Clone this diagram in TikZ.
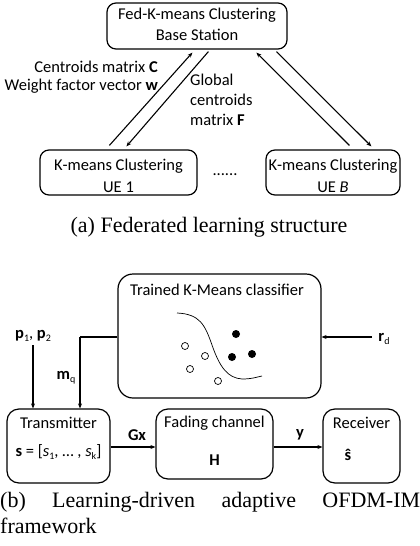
\documentclass[tikz,border=0pt]{standalone}
\usepackage{fontspec}
\setmainfont{Carlito}
\newfontfamily\capfont{Liberation Serif}
\usetikzlibrary{arrows.meta,positioning,calc}
\newcommand\mysub[1]{\raisebox{-0.35ex}{\fontsize{10}{10}\selectfont #1}}
\begin{document}
\begin{tikzpicture}[x=1pt,y=-1pt,
  box/.style={draw,line width=1.2pt,rounded corners=9pt,inner sep=0pt},
  txt/.style={inner sep=0pt,font=\fontsize{16.5}{18}\selectfont},
  lbl/.style={inner sep=0pt,font=\fontsize{16.5}{18}\selectfont},
  captxt/.style={inner sep=0pt,font=\capfont\fontsize{22}{24}\selectfont},
  arr/.style={line width=1.1pt,-{Stealth[length=5pt,width=4pt]}},
  ln/.style={line width=1.1pt}
]
\useasboundingbox (0,0) rectangle (420,546);
% ---- (a) ----
\node[box,minimum width=180pt,minimum height=46pt] (bs) at (197,26) {};
\node[txt] (bst1) at (197,15) {Fed-K-means Clustering};
\node[txt] (bst2) at (197,35) {Base Station};
\node[box,minimum width=157pt,minimum height=45pt] (ue1) at (118.5,172.5) {};
\node[txt] (ue1t1) at (118.5,166) {K-means Clustering};
\node[txt] (ue1t2) at (118.5,187) {UE 1};
\node[box,minimum width=134pt,minimum height=45pt] (ueb) at (333,172.5) {};
\node[txt] (uebt1) at (333,166) {K-means Clustering};
\node[txt] (uebt2) at (333,187) {UE \textit{B}};
\node[txt] (dots) at (225,175) {......};
\draw[arr] ([xshift=70pt,yshift=4pt]ue1.north west) -- ([xshift=86pt,yshift=-3pt]bs.south west);
\draw[arr] ([xshift=102pt,yshift=-2pt]bs.south west) -- ([xshift=87pt,yshift=3pt]ue1.north west);
\draw[arr] ([xshift=84pt,yshift=4pt]ueb.north west) -- ([xshift=150pt,yshift=-3pt]bs.south west);
\draw[arr] ([xshift=170pt,yshift=-2pt]bs.south west) -- ([xshift=106pt,yshift=3pt]ueb.north west);
\node[lbl,anchor=east] (lc) at (158,67) {Centroids matrix \textbf{C}};
\node[lbl,anchor=east] (lw) at (158,86) {Weight factor vector \textbf{w}};
\node[lbl,anchor=west,align=left] (lg1) at (190,80) {Global};
\node[lbl,anchor=west,align=left] (lg2) at (190,100) {centroids};
\node[lbl,anchor=west,align=left] (lg3) at (190,120) {matrix \textbf{F}};
\node[captxt] (capa) at (209,227) {(a) Federated learning structure};
% ---- (b) ----
\node[box,rounded corners=15pt,minimum width=203pt,minimum height=124pt] (cls) at (219.5,336) {};
\node[txt] (clst) at (217,290) {Trained K-Means classifier};
\draw[line width=0.7pt] (177,313) .. controls (200,314) and (205,325) .. (212,345)
  .. controls (220,368) and (228,378) .. (242,379) .. controls (252,379) and (257,377) .. (262,376);
\foreach \p/\q [count=\i] in {185/346,205/356,190/369,218/381}
  \node[draw,circle,line width=0.7pt,minimum size=7pt,inner sep=0pt] (oc\i) at (\p,\q) {};
\foreach \p/\q [count=\i] in {236/334,232/357,252/354}
  \node[fill,circle,minimum size=8pt,inner sep=0pt] (fc\i) at (\p,\q) {};
\node[box,rounded corners=12pt,minimum width=103pt,minimum height=74pt] (tx) at (58.5,446) {};
\node[txt] (txt1) at (58.5,423) {Transmitter};
\node[txt] (txt2) at (58.5,452) {\textbf{s} = [\textit{s}\mysub{1}, … , \textit{s}\mysub{k}]};
\node[box,rounded corners=12pt,minimum width=117pt,minimum height=70pt] (fch) at (214.5,444) {};
\node[txt] (fct1) at (214.5,423) {Fading channel};
\node[txt] (fct2) at (214.5,460) {\textbf{H}};
\node[box,rounded corners=12pt,minimum width=77pt,minimum height=74pt] (rx) at (361.5,446) {};
\node[txt] (rxt1) at (361.5,423) {Receiver};
\node[txt] (rxt2) at (348,455) {\textbf{ŝ}};
\node[lbl] (pl) at (33,336) {\textbf{p}\mysub{1}, \textbf{p}\mysub{2}};
\coordinate (pstart) at (33,345);
\draw[arr] (pstart) -- (pstart |- tx.north);
\coordinate (mcorner) at (80,337);
\draw[ln] (cls.west |- mcorner) -- (mcorner);
\draw[arr] (mcorner) -- (mcorner |- tx.north);
\node[lbl] (ml) at (66,378) {\textbf{m}\mysub{q}};
\coordinate (rstart) at (372,337);
\draw[arr] (rstart) -- (rstart -| cls.east);
\node[lbl] (rl) at (384,339) {\textbf{r}\mysub{d}};
\coordinate (gy) at (0,447);
\draw[arr] (tx.east |- gy) -- (fch.west |- gy);
\node[lbl] (gx) at (137,435) {\textbf{Gx}};
\draw[arr] (fch.east |- gy) -- (rx.west |- gy);
\node[lbl] (yl) at (300,435) {\textbf{y}};
\node[captxt,anchor=west,text width=420pt,align=left] (capb1) at (0,502) {(b)\hfill Learning-driven\hfill adaptive\hfill OFDM-IM};
\node[captxt,anchor=west] (capb2) at (0,526) {framework};
\end{tikzpicture}
\end{document}
